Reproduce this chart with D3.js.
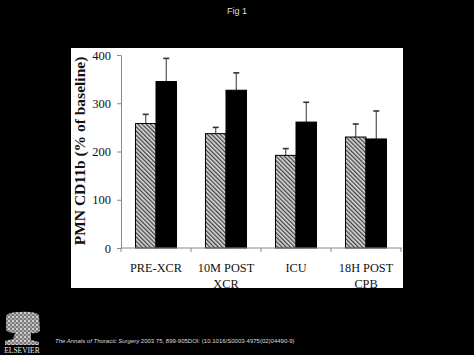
<!DOCTYPE html>
<html><head><meta charset="utf-8">
<script src="https://cdn.jsdelivr.net/npm/d3@7"></script>
<style>html,body{margin:0;padding:0;background:#000;}svg{display:block;}</style>
</head><body>
<script>
const categories = [["PRE-XCR"], ["10M POST","XCR"], ["ICU"], ["18H POST","CPB"]];
const seriesNames = ["hatched", "solid"];
const hatchedValues = [258, 237, 192, 230];
const hatchedErrors = [277, 250, 206, 257];
const solidValues = [345, 327, 261, 226];
const solidErrors = [393, 363, 302, 284];
const yTicks = [0, 100, 200, 300, 400];
const yLabel = "PMN CD11b (% of baseline)";

const W = 474, H = 355;
const svg = d3.select("body").append("svg").attr("width", W).attr("height", H);
svg.append("rect").attr("width", W).attr("height", H).attr("fill", "#000");

const defs = svg.append("defs");
const pat = defs.append("pattern").attr("id","hatch").attr("patternUnits","userSpaceOnUse")
  .attr("width",3).attr("height",3).attr("patternTransform","rotate(-45)");
pat.append("rect").attr("width",3).attr("height",3).attr("fill","#dcdcdc");
pat.append("rect").attr("width",1.3).attr("height",3).attr("fill","#404040");

// title
svg.append("text").attr("x",237).attr("y",14).attr("text-anchor","middle")
  .attr("font-family","Liberation Sans, Arial, sans-serif").attr("font-size",9).attr("fill","#ddd").text("Fig 1");

// white panel
svg.append("rect").attr("x",71).attr("y",48).attr("width",332).attr("height",240).attr("fill","#fff");

const keys = categories.map(c => c.join(" "));
const x = d3.scaleBand().domain(keys).range([121,401]).paddingInner(0.414).paddingOuter(0.207);
const xs = d3.scaleBand().domain(seriesNames).range([0, x.bandwidth()]);
const y = d3.scaleLinear().domain([0,400]).range([248,55]);

const data = [];
keys.forEach((k,i) => {
  data.push({k, s:"hatched", v:hatchedValues[i], e:hatchedErrors[i]});
  data.push({k, s:"solid", v:solidValues[i], e:solidErrors[i]});
});

const g = svg.append("g");
// error bars
g.selectAll("line.err").data(data).join("line")
  .attr("x1", d => x(d.k)+xs(d.s)+xs.bandwidth()/2).attr("x2", d => x(d.k)+xs(d.s)+xs.bandwidth()/2)
  .attr("y1", d => y(d.v)).attr("y2", d => y(d.e)).attr("stroke","#444").attr("stroke-width",1.1);
g.selectAll("line.cap").data(data).join("line")
  .attr("x1", d => x(d.k)+xs(d.s)+xs.bandwidth()/2-3).attr("x2", d => x(d.k)+xs(d.s)+xs.bandwidth()/2+3)
  .attr("y1", d => y(d.e)).attr("y2", d => y(d.e)).attr("stroke","#333").attr("stroke-width",1.6);
// bars
g.selectAll("rect.bar").data(data).join("rect")
  .attr("x", d => x(d.k)+xs(d.s)).attr("width", xs.bandwidth())
  .attr("y", d => y(d.v)).attr("height", d => y(0)-y(d.v))
  .attr("fill", d => d.s==="hatched" ? "url(#hatch)" : "#000")
  .attr("stroke","#000").attr("stroke-width",1);

// y axis
const ya = svg.append("g").attr("transform","translate(121,0)")
  .call(d3.axisLeft(y).tickValues(yTicks).tickSize(4).tickSizeOuter(0).tickPadding(6));
ya.select(".domain").attr("stroke","#888");
ya.selectAll(".tick line").attr("stroke","#888");
ya.selectAll("text").attr("font-family","Liberation Serif, Times New Roman, serif").attr("font-size",12.5).attr("fill","#111");

// x axis
const xa = svg.append("g").attr("transform","translate(0,248)");
xa.append("line").attr("x1",121).attr("x2",402).attr("stroke","#888");
const step = x.step();
const bounds = [121].concat(keys.map(k => x(k) + x.bandwidth() + (step - x.bandwidth())/2));
xa.selectAll("line.tk").data(bounds).join("line").attr("x1",d=>d).attr("x2",d=>d).attr("y1",0).attr("y2",4).attr("stroke","#888");
categories.forEach((lines,i) => {
  const cx = x(keys[i]) + x.bandwidth()/2;
  lines.forEach((t,j) => {
    xa.append("text").attr("x",cx).attr("y",23.5 + j*16).attr("text-anchor","middle")
      .attr("font-family","Liberation Serif, Times New Roman, serif").attr("font-size",12.3).attr("fill","#111").text(t);
  });
});

// y label
svg.append("text").attr("transform","translate(85,151) rotate(-90)").attr("text-anchor","middle")
  .attr("font-family","Liberation Serif, Times New Roman, serif").attr("font-weight","bold").attr("font-size",15.5)
  .attr("fill","#111").text(yLabel);

// Elsevier logo (approximate)
const lp = defs.append("pattern").attr("id","tree").attr("patternUnits","userSpaceOnUse").attr("width",4).attr("height",4);
lp.append("rect").attr("width",4).attr("height",4).attr("fill","#7a7a7a");
lp.append("rect").attr("width",2).attr("height",2).attr("fill","#d0d0d0");
lp.append("rect").attr("x",2).attr("y",2).attr("width",2).attr("height",2).attr("fill","#aaa");
const logo = svg.append("g");
logo.append("path").attr("d","M6,316 Q8,312 20,312 Q34,311 39,315 L40,331 Q36,334 31,333 L31,340 L39,342 L39,345 L5,345 L5,341 L13,339 L15,333 Q8,333 6,330 Z")
  .attr("fill","url(#tree)");
logo.append("text").attr("x",22).attr("y",353).attr("text-anchor","middle")
  .attr("font-family","Liberation Serif, Times New Roman, serif").attr("font-size",7.5).attr("fill","#eee").text("ELSEVIER");

// citation
const cit = svg.append("text").attr("x",55).attr("y",343)
  .attr("font-family","Liberation Sans, Arial, sans-serif").attr("font-size",6).attr("fill","#ddd");
cit.append("tspan").attr("font-style","italic").text("The Annals of Thoracic Surgery");
cit.append("tspan").text(" 2003 75, 899-905DOI: (10.1016/S0003-4975(02)04490-9)");
</script>
</body></html>
